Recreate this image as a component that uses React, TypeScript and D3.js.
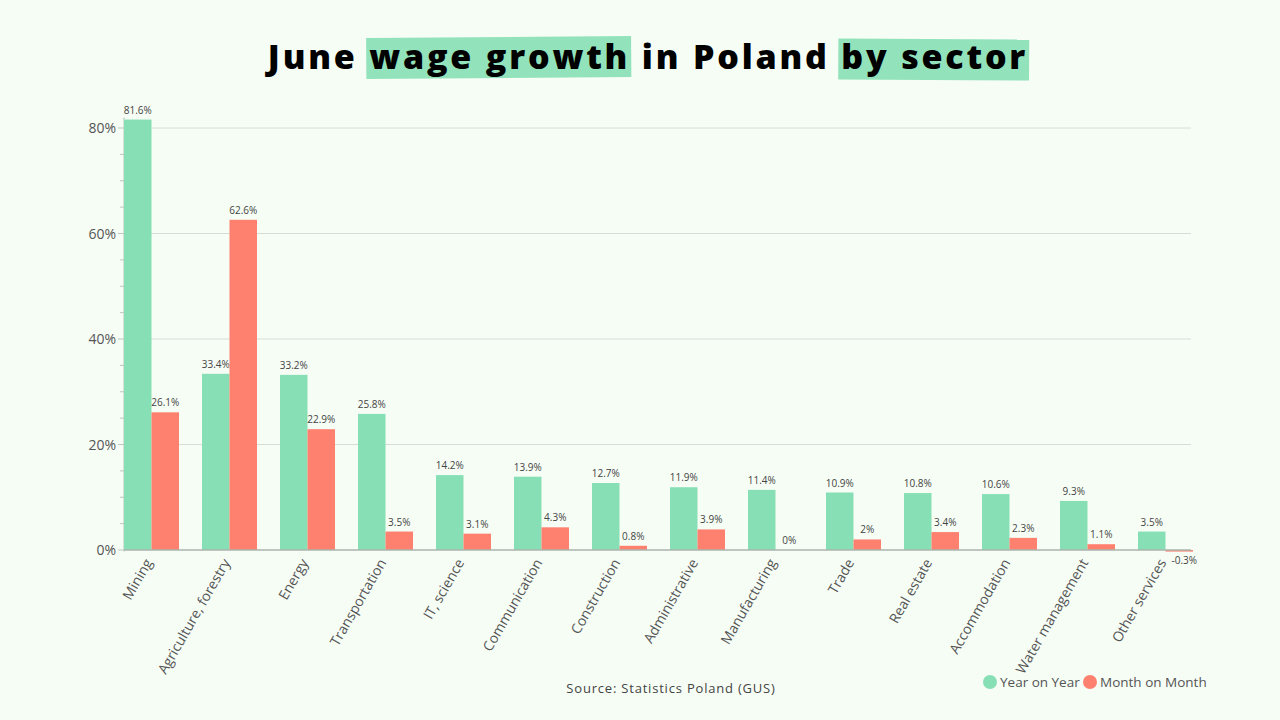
import React, { useLayoutEffect, useRef, useState } from "react";
import * as d3 from "d3";

const categories = [
  "Mining", "Agriculture, forestry", "Energy", "Transportation", "IT, science",
  "Communication", "Construction", "Administrative", "Manufacturing", "Trade",
  "Real estate", "Accommodation", "Water management", "Other services",
];
const yoy = [81.6, 33.4, 33.2, 25.8, 14.2, 13.9, 12.7, 11.9, 11.4, 10.9, 10.8, 10.6, 9.3, 3.5];
const mom = [26.1, 62.6, 22.9, 3.5, 3.1, 4.3, 0.8, 3.9, 0, 2, 3.4, 2.3, 1.1, -0.3];
const seriesNames = ["Year on Year", "Month on Month"];
const yTicks = [0, 20, 40, 60, 80];
const minorTicks = d3.range(0, 85, 5);

const W = 1280, H = 720;
const BG = "#f6fdf5";
const GREEN = "#87e0b5";
const RED = "#fe8170";
const FONT = "'Open Sans', sans-serif";

export default function App() {
  const x = d3.scaleBand<string>().domain(categories).range([124, 1193]).paddingInner(0.295).paddingOuter(0);
  const x1 = d3.scaleBand<number>().domain([0, 1]).range([0, x.bandwidth()]);
  const y = d3.scaleLinear().domain([0, 80]).range([550, 128]);
  const fmt = (v: number) => `${v}%`;

  const hl1 = useRef<SVGTSpanElement>(null);
  const hl2 = useRef<SVGTSpanElement>(null);
  const [rects, setRects] = useState<{ x: number; w: number }[]>([]);
  useLayoutEffect(() => {
    const r: { x: number; w: number }[] = [];
    [hl1, hl2].forEach((ref) => {
      if (ref.current) {
        const b = ref.current.getBBox();
        r.push({ x: b.x, w: b.width });
      }
    });
    setRects(r);
  }, []);

  const series = [yoy, mom];
  const colors = [GREEN, RED];

  return (
    <svg width={W} height={H} style={{ display: "block", position: "absolute", left: 0, top: 0 }} fontFamily={FONT}>
      <rect x={0} y={0} width={W} height={H} fill={BG} />
      {/* title highlights */}
      {rects.map((r, i) => (
        <rect key={i} x={r.x - 3} y={i === 0 ? 37 : 39} width={r.w + 4} height={41} fill={GREEN} opacity={0.9}
          transform={i === 0 ? "rotate(-0.4 500 57)" : "rotate(0.3 940 60)"} />
      ))}
      <text x={648} y={69} textAnchor="middle" fontSize={34} fontWeight={800} letterSpacing={2.8} fill="#000">
        June <tspan ref={hl1}>wage growth</tspan> in Poland <tspan ref={hl2}>by sector</tspan>
      </text>

      {/* gridlines */}
      {yTicks.filter((t) => t > 0).map((t) => (
        <line key={t} x1={124} x2={1191} y1={y(t)} y2={y(t)} stroke="#d8dcd8" strokeWidth={1} />
      ))}
      {/* y axis */}
      <line x1={124} x2={124} y1={y(-0.3)} y2={y(82)} stroke="#b9c7bd" strokeWidth={1} />
      {minorTicks.map((t) => (
        <line key={t} x1={t % 20 === 0 ? 118 : 120} x2={124} y1={y(t)} y2={y(t)} stroke="#b9c7bd" strokeWidth={1} />
      ))}
      {yTicks.map((t) => (
        <text key={t} x={116} y={y(t) + 5} textAnchor="end" fontSize={14} fill="#555">{fmt(t)}</text>
      ))}

      {/* bars */}
      {categories.map((c, i) => (
        <g key={c}>
          {series.map((s, k) => {
            const v = s[i];
            const bx = (x(c) as number) + (x1(k) as number);
            const top = Math.min(y(v), y(0));
            const h = Math.abs(y(v) - y(0));
            return (
              <g key={k}>
                <rect x={bx} y={top} width={x1.bandwidth()} height={h} fill={colors[k]} />
                <text x={bx + x1.bandwidth() / 2 + (v < 0 ? 5 : 0)} y={v < 0 ? y(v) + 12 : y(v) - 6} textAnchor="middle" fontSize={10} fill="#444">
                  {fmt(v)}
                </text>
              </g>
            );
          })}
        </g>
      ))}
      {/* baseline */}
      <line x1={124} x2={1191} y1={y(0)} y2={y(0)} stroke="#aab5ad" strokeWidth={1.5} />

      {/* x labels */}
      {categories.map((c) => {
        const cx = (x(c) as number) + x.bandwidth() / 2;
        return (
          <text key={c} transform={`translate(${cx - 3},${560}) rotate(-60)`} textAnchor="end" fontSize={14} fill="#555" dy="0.35em">
            {c}
          </text>
        );
      })}

      {/* source */}
      <text x={671} y={693} textAnchor="middle" fontSize={13} fill="#444" letterSpacing={0.8}>Source: Statistics Poland (GUS)</text>

      {/* legend */}
      <circle cx={990} cy={682} r={7} fill={GREEN} />
      <text x={1000} y={687} fontSize={13.5} fill="#555">{seriesNames[0]}</text>
      <circle cx={1090} cy={682} r={7} fill={RED} />
      <text x={1100} y={687} fontSize={13.5} fill="#555">{seriesNames[1]}</text>
    </svg>
  );
}
